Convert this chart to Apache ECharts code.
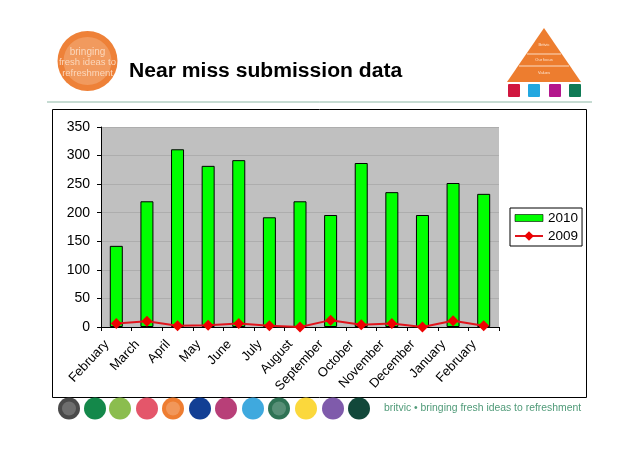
<!DOCTYPE html>
<html>
<head>
<meta charset="utf-8">
<style>
html, body { margin: 0; padding: 0; background: #fff; }
#chart { width: 638px; height: 452px; }
</style>
<script src="https://cdn.jsdelivr.net/npm/echarts@6/dist/echarts.min.js"></script>
</head>
<body>
<div id="chart"></div>
<script>
var months = ['February', 'March', 'April', 'May', 'June', 'July', 'August', 'September', 'October', 'November', 'December', 'January', 'February'];
var values2010 = [142, 220, 311, 282, 292, 192, 220, 196, 287, 236, 196, 252, 233];
var values2009 = [6, 10, 2, 3, 6, 2, 0, 12, 4, 6, 0, 11, 2];
var capColors = ['#4a4a4a', '#14884a', '#8bbd4e', '#e4566a', '#ee7d31', '#123f94', '#b83f78', '#3fa9de', '#2f7355', '#fbd83c', '#7f5bab', '#12483a'];
var tabColors = ['#d0173f', '#22a7e0', '#b3178c', '#0f7a55'];
var fontName = '"Liberation Sans", Arial, sans-serif';

var myChart = echarts.init(document.getElementById('chart'), null, {renderer: 'canvas'});

// slide decoration around the chart
var deco = [
	{type: 'rect', z: -10, shape: {x: 52.5, y: 109.5, width: 534, height: 288}, style: {fill: '#fff', stroke: '#000', lineWidth: 1}},
	{type: 'line', z: 0, shape: {x1: 47, y1: 102, x2: 592, y2: 102}, style: {stroke: '#8db8a6', lineWidth: 1}},
	{type: 'circle', z: 1, shape: {cx: 87.5, cy: 61, r: 30}, style: {fill: '#ee8138'}},
	{type: 'circle', z: 1, shape: {cx: 87.5, cy: 61, r: 24}, style: {fill: '#f19a5e'}},
	{type: 'text', z: 2, style: {x: 87.5, y: 52, text: 'bringing', fill: '#fbd8bd', font: '10px ' + fontName, align: 'center', verticalAlign: 'middle'}},
	{type: 'text', z: 2, style: {x: 87.5, y: 62, text: 'fresh ideas to', fill: '#fbd8bd', font: '9.5px ' + fontName, align: 'center', verticalAlign: 'middle'}},
	{type: 'text', z: 2, style: {x: 87.5, y: 73, text: 'refreshment', fill: '#fbd8bd', font: '9.5px ' + fontName, align: 'center', verticalAlign: 'middle'}},
	{type: 'text', z: 2, style: {x: 129, y: 71, text: 'Near miss submission data', fill: '#000', font: 'bold 21.1px ' + fontName, align: 'left', verticalAlign: 'middle'}},
	{type: 'polygon', z: 1, shape: {points: [[544, 28], [507, 82], [581, 82]]}, style: {fill: '#ed7d2f'}},
	{type: 'line', z: 2, shape: {x1: 527, y1: 54, x2: 561, y2: 54}, style: {stroke: '#fbdcc4', lineWidth: 1}},
	{type: 'line', z: 2, shape: {x1: 519, y1: 66, x2: 569, y2: 66}, style: {stroke: '#fbdcc4', lineWidth: 1}},
	{type: 'text', z: 3, style: {x: 544, y: 45, text: 'Britvic', fill: '#fde6d4', font: '4px ' + fontName, align: 'center', verticalAlign: 'middle'}},
	{type: 'text', z: 3, style: {x: 544, y: 60, text: 'Our focus', fill: '#fde6d4', font: '4px ' + fontName, align: 'center', verticalAlign: 'middle'}},
	{type: 'text', z: 3, style: {x: 544, y: 73, text: 'Values', fill: '#fde6d4', font: '4px ' + fontName, align: 'center', verticalAlign: 'middle'}},
	{type: 'text', z: 2, style: {x: 384, y: 408, text: 'britvic • bringing fresh ideas to refreshment', fill: '#4f9a78', font: '10.4px ' + fontName, align: 'left', verticalAlign: 'middle'}}
];
tabColors.forEach(function(c, i) {
	var tabX = [508, 528, 549, 569][i];
	deco.push({type: 'rect', z: 1, shape: {x: tabX, y: 84, width: 12, height: 13, r: 1}, style: {fill: c}});
});
capColors.forEach(function(c, i) {
	var capX = [69, 95, 120, 147, 173, 200, 226, 253, 279, 306, 333, 359][i];
	deco.push({type: 'circle', z: 1, shape: {cx: capX, cy: 408.5, r: 11}, style: {fill: c}});
	// a few of the caps have a lighter centre
	if (i === 0 || i === 4 || i === 8) {
		deco.push({type: 'circle', z: 1, shape: {cx: capX, cy: 408.5, r: 7}, style: {fill: '#fff', opacity: 0.2}});
	}
});

var option = {
	animation: false,
	backgroundColor: '#fff',
	graphic: deco,
	textStyle: {fontFamily: fontName},
	grid: {left: 101, top: 127, width: 398, height: 200, containLabel: false, backgroundColor: '#c0c0c0', show: true, borderWidth: 0},
	legend: {
		orient: 'vertical',
		left: 510,
		top: 208,
		padding: [3, 4, 3, 4],
		itemGap: 4,
		itemWidth: 28,
		itemHeight: 12,
		borderColor: '#000',
		borderWidth: 1,
		backgroundColor: '#fff',
		textStyle: {color: '#000', fontSize: 13.5},
		data: [{name: '2010', icon: 'path://M0 0H28V7H0Z', itemStyle: {borderWidth: 0.6}}, {name: '2009'}]
	},
	xAxis: {
		type: 'category',
		data: months,
		boundaryGap: true,
		axisLine: {lineStyle: {color: '#000', width: 1}},
		axisTick: {show: true, alignWithLabel: false, length: 4, lineStyle: {color: '#000'}},
		axisLabel: {rotate: 47, interval: 0, color: '#000', fontSize: 13, margin: 5, padding: [0, 14, 0, 0]}
	},
	yAxis: {
		type: 'value',
		min: 0,
		max: 350,
		interval: 50,
		axisLine: {show: true, lineStyle: {color: '#000', width: 1}},
		axisTick: {show: true, length: 4, lineStyle: {color: '#000'}},
		axisLabel: {color: '#000', fontSize: 14, margin: 11},
		splitLine: {show: true, lineStyle: {color: '#adadad', width: 1}}
	},
	series: [
		{
			name: '2010',
			type: 'bar',
			data: values2010,
			barWidth: 13,
			itemStyle: {color: '#00ff00', borderColor: '#000', borderWidth: 1}
		},
		{
			name: '2009',
			type: 'line',
			data: values2009,
			symbol: 'diamond',
			symbolSize: 11,
			lineStyle: {color: '#e0141c', width: 2},
			itemStyle: {color: '#ee0000'}
		}
	]
};

myChart.setOption(option);
</script>
</body>
</html>
